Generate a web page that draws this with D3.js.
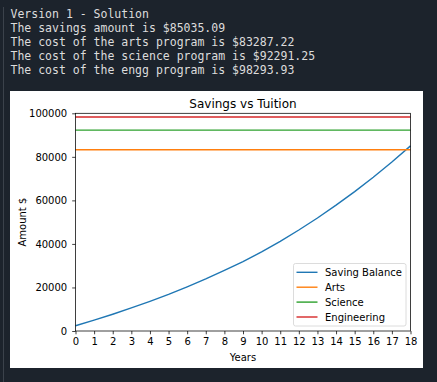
<!DOCTYPE html>
<html>
<head>
<meta charset="utf-8">
<script src="https://cdn.jsdelivr.net/npm/d3@7"></script>
<style>
  html, body { margin: 0; padding: 0; background: #1c232c; }
  svg { display: block; }
</style>
</head>
<body>
<div id="chart"></div>
<script>
// console output printed above the figure
var consoleLines = [
    "Version 1 - Solution",
    "The savings amount is $85035.09",
    "The cost of the arts program is $83287.22",
    "The cost of the science program is $92291.25",
    "The cost of the engg program is $98293.93"
];

// data
var years = d3.range(0, 19);
var savings = [2400, 5000, 7700, 10600, 13600, 16800, 20300, 23900, 27800, 31900,
               36300, 41200, 46400, 51900, 57800, 64000, 70600, 77600, 85035.09];
var artsCost = 83287.22;
var scienceCost = 92291.25;
var enggCost = 98293.93;
var yTicks = [0, 20000, 40000, 60000, 80000, 100000];

var series = [
    { name: "Saving Balance", color: "#1f77b4", values: savings },
    { name: "Arts", color: "#ff7f0e", values: years.map(function() { return artsCost; }) },
    { name: "Science", color: "#2ca02c", values: years.map(function() { return scienceCost; }) },
    { name: "Engineering", color: "#d62728", values: years.map(function() { return enggCost; }) }
];

var W = 437, H = 382;
var plot = { left: 75.5, right: 410.5, top: 113.3, bottom: 331 };
var fontSans = "'DejaVu Sans', sans-serif";

var svg = d3.select("#chart").append("svg")
    .attr("width", W)
    .attr("height", H);

svg.append("rect")
    .attr("width", W).attr("height", H)
    .style("fill", "#1c232c");

// left gutter line of the terminal
svg.append("line")
    .attr("x1", 3.5).attr("x2", 3.5)
    .attr("y1", 7).attr("y2", H)
    .style("stroke", "#3b424b")
    .style("stroke-width", 1);

svg.append("g").selectAll("text")
    .data(consoleLines)
    .enter().append("text")
    .attr("x", 10.5)
    .attr("y", function(d, i) { return 18.3 + i * 14; })
    .style("font-family", "'DejaVu Sans Mono', monospace")
    .style("font-size", "11.5px")
    .style("fill", "#dcdcdc")
    .text(function(d) { return d; });

// white figure
svg.append("rect")
    .attr("x", 10).attr("y", 91)
    .attr("width", 413).attr("height", 277)
    .style("fill", "#ffffff");

var xScale = d3.scaleLinear().domain([0, 18]).range([plot.left, plot.right]);
var yScale = d3.scaleLinear().domain([0, 100000]).range([plot.bottom, plot.top]);

var line = d3.line()
    .x(function(d, i) { return xScale(years[i]); })
    .y(function(d) { return yScale(d); });

svg.append("g").selectAll("path")
    .data(series)
    .enter().append("path")
    .attr("d", function(d) { return line(d.values); })
    .style("fill", "none")
    .style("stroke", function(d) { return d.color; })
    .style("stroke-width", 1.4);

// axes
var xAxis = svg.append("g")
    .attr("transform", "translate(0," + plot.bottom + ")")
    .call(d3.axisBottom(xScale).tickValues(years).tickSize(3.3).tickPadding(3.5).tickFormat(d3.format("d")));

var yAxis = svg.append("g")
    .attr("transform", "translate(" + plot.left + ",0)")
    .call(d3.axisLeft(yScale).tickValues(yTicks).tickSize(3.3).tickPadding(5).tickFormat(d3.format("d")));

[xAxis, yAxis].forEach(function(ax) {
    ax.select(".domain").remove();
    ax.selectAll("line").style("stroke", "#000").style("stroke-width", 0.75);
    ax.selectAll("text")
        .style("font-family", fontSans)
        .style("font-size", "10px")
        .style("fill", "#000");
});

// frame
svg.append("rect")
    .attr("x", plot.left).attr("y", plot.top)
    .attr("width", plot.right - plot.left)
    .attr("height", plot.bottom - plot.top)
    .style("fill", "none")
    .style("stroke", "#000")
    .style("stroke-width", 0.75);

svg.append("text")
    .attr("x", (plot.left + plot.right) / 2)
    .attr("y", 107.7)
    .attr("text-anchor", "middle")
    .style("font-family", fontSans)
    .style("font-size", "12px")
    .text("Savings vs Tuition");

svg.append("text")
    .attr("x", (plot.left + plot.right) / 2)
    .attr("y", 361)
    .attr("text-anchor", "middle")
    .style("font-family", fontSans)
    .style("font-size", "10px")
    .text("Years");

svg.append("text")
    .attr("transform", "translate(25.5," + (plot.top + plot.bottom) / 2 + ") rotate(-90)")
    .attr("text-anchor", "middle")
    .style("font-family", fontSans)
    .style("font-size", "10px")
    .text("Amount $");

// legend
var legend = svg.append("g").attr("transform", "translate(293.5,263.5)");
legend.append("rect")
    .attr("width", 112.5).attr("height", 62.5)
    .attr("rx", 2).attr("ry", 2)
    .style("fill", "#ffffff")
    .style("fill-opacity", 0.8)
    .style("stroke", "#d0d0d0")
    .style("stroke-width", 0.75);

var items = legend.selectAll("g.item")
    .data(series)
    .enter().append("g")
    .attr("class", "item")
    .attr("transform", function(d, i) { return "translate(0," + (8.8 + i * 14.9) + ")"; });

items.append("line")
    .attr("x1", 3).attr("x2", 24)
    .style("stroke", function(d) { return d.color; })
    .style("stroke-width", 1.4);

items.append("text")
    .attr("x", 31.5)
    .attr("dy", "0.35em")
    .style("font-family", fontSans)
    .style("font-size", "10px")
    .text(function(d) { return d.name; });
</script>
</body>
</html>
